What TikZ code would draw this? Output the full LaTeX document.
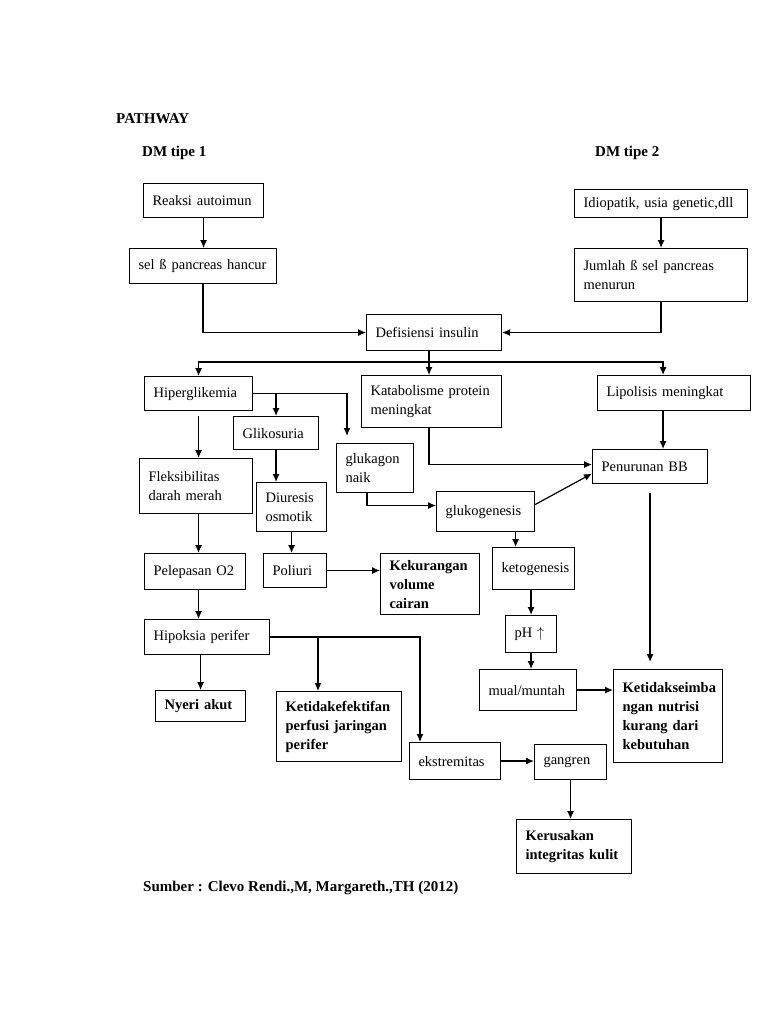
\documentclass[tikz,border=0pt]{standalone}
\usepackage{fontspec}
\setmainfont{Liberation Serif}
\usetikzlibrary{arrows.meta}

\tikzset{
  box/.style={draw, line width=1.1pt, inner xsep=9pt, inner ysep=0pt, align=left, anchor=north west},
  bbox/.style={box, font=\fontsize{14.5}{19}\selectfont\bfseries},
  ln/.style={line width=1.2pt},
  arr/.style={line width=1.2pt, -{Latex[length=8pt,width=7pt]}},
  title/.style={anchor=base west, inner sep=0pt, font=\fontsize{15}{19}\selectfont\bfseries}
}

\begin{document}
\begin{tikzpicture}[x=1pt, y=1pt, font=\fontsize{14.5}{19}\selectfont]
    \useasboundingbox (0,0) rectangle (768,-1024);

    % titles
    \node[title] (pathway) at (116,-124) {PATHWAY};
    \node[title] (tipe1) at (142,-157) {DM tipe 1};
    \node[title] (tipe2) at (595,-157) {DM tipe 2};
    \node[title] (sumber) at (143,-891) {Sumber : Clevo Rendi.,M, Margareth.,TH (2012)};

    % DM tipe 1
    \node[box, text width=102pt, minimum height=34pt] (reaksi) at (143,-183) {Reaksi autoimun};
    \node[box, text width=129pt, minimum height=35pt] (sel) at (129,-248) {sel ß pancreas hancur};

    % DM tipe 2
    \node[box, text width=155pt, minimum height=28pt] (idio) at (574,-189) {Idiopatik, usia genetic,dll};
    \node[box, text width=155pt, minimum height=53pt] (jumlah) at (574,-248) {Jumlah ß sel pancreas\\menurun};

    \node[box, text width=117pt, minimum height=36pt] (def) at (366,-314) {Defisiensi insulin};

    % second row
    \node[box, text width=90pt, minimum height=34pt] (hiper) at (144,-376) {Hiperglikemia};
    \node[box, text width=122pt, minimum height=52pt] (kata) at (361,-375) {Katabolisme protein\\meningkat};
    \node[box, text width=135pt, minimum height=35pt] (lipo) at (597,-375) {Lipolisis meningkat};

    \node[box, text width=67pt, minimum height=33pt] (glik) at (233,-416) {Glikosuria};
    \node[box, text width=95pt, minimum height=55pt] (fleks) at (139,-458) {Fleksibilitas\\darah merah};
    \node[box, text width=59pt, minimum height=49pt] (gnaik) at (336,-443) {glukagon\\naik};
    \node[box, text width=52pt, minimum height=49pt] (diur) at (256,-482) {Diuresis\\osmotik};
    \node[box, text width=80pt, minimum height=40pt] (gluko) at (436,-491) {glukogenesis};
    \node[box, text width=97pt, minimum height=34pt] (pen) at (592,-449) {Penurunan BB};

    \node[box, text width=83pt, minimum height=36pt] (pelep) at (144,-553) {Pelepasan O2};
    \node[box, text width=45pt, minimum height=34pt] (poli) at (263,-553) {Poliuri};
    \node[bbox, text width=81pt, minimum height=61pt] (kek) at (380,-553) {Kekurangan\\volume\\cairan};
    \node[box, text width=64pt, minimum height=42pt] (keto) at (492,-547) {ketogenesis};
    \node[box, text width=33pt, minimum height=37pt] (ph) at (505,-615) {pH $\uparrow$};
    \node[box, text width=79pt, minimum height=41pt] (mual) at (479,-669) {mual/muntah};
    \node[bbox, text width=91pt, minimum height=93pt] (ket) at (613,-669) {Ketidakseimba\\ngan nutrisi\\kurang dari\\kebutuhan};

    \node[box, text width=107pt, minimum height=35pt] (hipo) at (144,-619) {Hipoksia perifer};
    \node[bbox, text width=72pt, minimum height=31pt] (nyeri) at (155,-690) {Nyeri akut};
    \node[bbox, text width=107pt, minimum height=70pt] (ketef) at (276,-691) {Ketidakefektifan\\perfusi jaringan\\perifer};
    \node[box, text width=73pt, minimum height=37pt] (eks) at (409,-742) {ekstremitas};
    \node[box, text width=54pt, minimum height=35pt] (gang) at (534,-744) {gangren};
    \node[bbox, text width=97pt, minimum height=54pt] (kerus) at (516,-819) {Kerusakan\\integritas kulit};

    % branch points
    \coordinate (split) at (429,-362);
    \coordinate (ketefin) at ([xshift=42pt]ketef.north west);

    % arrows
    \draw[arr] (reaksi.south) -- (reaksi.south |- sel.north);
    \draw[arr] (sel.south) |- (def.west);
    \draw[arr] (idio.south) -- (idio.south |- jumlah.north);
    \draw[arr] (jumlah.south) |- (def.east);

    \draw[ln] (def.south -| split) -- (split);
    \draw[arr] (split) -| (hiper.north);
    \draw[arr] (split) -| ([xshift=-11pt]lipo.north);
    \draw[arr] (split) -- (split |- kata.north);

    \draw[arr, shorten >=7pt] (hiper.east) -| ([xshift=11pt]gnaik.north west);
    \draw[arr] (hiper.east -| glik.north) -- (glik.north);
    \draw[arr, shorten <=5pt] (hiper.south) -- (hiper.south |- fleks.north);
    \draw[arr] (glik.south) -- (glik.south |- diur.north);
    \draw[arr] (fleks.south -| hiper.south) -- (pelep.north -| hiper.south);
    \draw[arr] (pelep.south -| hiper.south) -- (hipo.north -| hiper.south);
    \draw[arr] (diur.south) -- (diur.south |- poli.north);
    \draw[arr] (poli.east) -- (poli.east -| kek.west);

    \draw[arr] ([xshift=-8pt]gnaik.south) |- ([yshift=6pt]gluko.west);
    \draw[arr] ([yshift=7pt]gluko.east) -- ([yshift=-7pt]pen.west);
    \draw[arr] (kata.south -| split) |- ([yshift=2pt]pen.west);
    \draw[arr] ([xshift=-11pt]lipo.south) -- ([xshift=-11pt]lipo.south |- pen.north);
    \draw[arr, shorten <=9pt, shorten >=7pt] (pen.south) -- (pen.south |- ket.north);

    \draw[arr] ([xshift=30pt]gluko.south) -- ([xshift=30pt]gluko.south |- keto.north);
    \draw[arr] (keto.south -| ph.north) -- (ph.north);
    \draw[arr] (ph.south) -- (ph.south |- mual.north);
    \draw[arr] (mual.east) -- (mual.east -| ket.west);

    \draw[arr] (hipo.south -| nyeri.north) -- (nyeri.north);
    \draw[arr] (hipo.east) -| ([xshift=11pt]eks.north west);
    \draw[arr] (hipo.east -| ketefin) -- (ketefin);
    \draw[arr] (eks.east) -- (eks.east -| gang.west);
    \draw[arr] (gang.south) -- (gang.south |- kerus.north);

\end{tikzpicture}
\end{document}
